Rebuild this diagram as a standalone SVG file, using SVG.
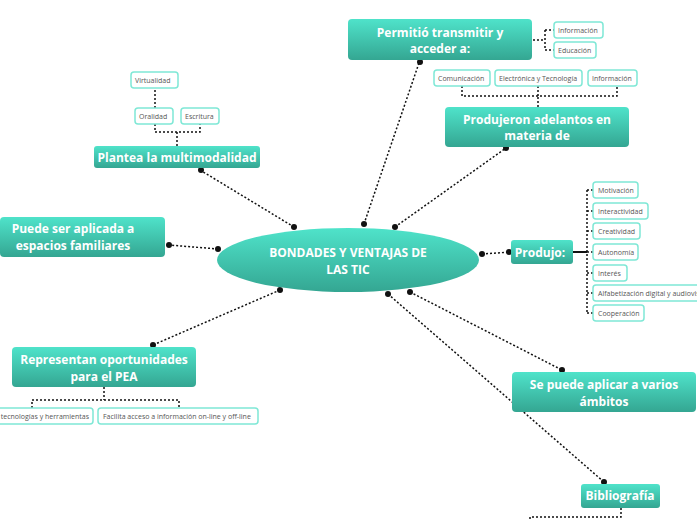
<svg xmlns="http://www.w3.org/2000/svg" width="697" height="520" viewBox="0 0 697 520">
<defs>
<linearGradient id="g" x1="0" y1="0" x2="0" y2="1"><stop offset="0" stop-color="#4fe3ca"/><stop offset="1" stop-color="#34a692"/></linearGradient>
<style>
.n{fill:url(#g)}
.t{font-family:"Open Sans","DejaVu Sans",sans-serif;font-weight:bold;font-size:12px;fill:#fff;text-anchor:middle}
.s rect{fill:#fff;stroke:#7fe8d6;stroke-width:1.5}
.s text{font-family:"Open Sans","DejaVu Sans",sans-serif;font-size:7px;fill:#555}
.c{fill:none;stroke:#111;stroke-width:1.5;stroke-dasharray:2,2}
.d{fill:#111}
</style>
</defs>
<rect width="697" height="520" fill="#fff"/>
<g id="connectors">
<path class="c" d="M364 224L420 60M395 227L506 148M294 227L200 170M218 249L169 245M482 254L511 252M280 290L153 345M410 292L562 370M388 294L604 482"/>
<g class="d">
<circle cx="364" cy="224" r="3"/><circle cx="420" cy="62" r="3"/>
<circle cx="395" cy="227" r="3"/><circle cx="506" cy="148" r="3"/>
<circle cx="294" cy="227" r="3"/><circle cx="201" cy="170" r="3"/>
<circle cx="218" cy="249" r="3"/><circle cx="169" cy="245" r="3"/>
<circle cx="482" cy="254" r="3"/><circle cx="509" cy="252" r="3"/>
<circle cx="280" cy="290" r="3"/><circle cx="153" cy="345" r="3"/>
<circle cx="410" cy="292" r="3"/><circle cx="562" cy="370" r="3"/>
<circle cx="388" cy="294" r="3"/><circle cx="604" cy="482" r="3"/>
</g>
<path class="c" d="M533 40H545M545 30V50M545 30H554M545 50H554"/>
<path class="c" d="M538 107V96M462 86V96H617V86M538 86V96"/>
<path class="c" d="M177 146V132M155 124V132H200V124M155 108V88"/>
<path class="c" d="M104 387V400M32 408V400H179V408"/>
<path class="c" d="M587 190V313M587 190H593M587 211H593M587 231H593M587 252H593M587 273H593M587 293H593M587 313H593"/>
<path d="M573 252H587" stroke="#111" stroke-width="2"/>
<path class="c" d="M621 508V517H530V520"/>
</g>
<g id="center"><ellipse cx="348" cy="260" rx="131" ry="32" class="n"/><text class="t" x="348" y="257">BONDADES Y VENTAJAS DE</text><text class="t" x="348" y="274">LAS TIC</text></g>
<g id="permitio"><rect x="348" y="19" width="184" height="41" rx="4" class="n"/><text class="t" x="440" y="37">Permitió transmitir y</text><text class="t" x="440" y="53">acceder a:</text></g>
<g id="produjeron"><rect x="445" y="107" width="184" height="40" rx="4" class="n"/><text class="t" x="537" y="124">Produjeron adelantos en</text><text class="t" x="537" y="140">materia de</text></g>
<g id="plantea"><rect x="94" y="146" width="166" height="22" rx="3" class="n"/><text class="t" x="177" y="162">Plantea la multimodalidad</text></g>
<g id="puede"><rect x="0" y="217" width="165" height="40" rx="4" class="n"/><text class="t" x="73" y="233">Puede ser aplicada a</text><text class="t" x="73" y="250">espacios familiares</text></g>
<g id="produjo"><rect x="511" y="240" width="62" height="24" rx="3" class="n"/><text class="t" x="540" y="257">Produjo:</text></g>
<g id="representan"><rect x="12" y="347" width="184" height="40" rx="4" class="n"/><text class="t" x="104" y="364">Representan oportunidades</text><text class="t" x="104" y="381">para el PEA</text></g>
<g id="sepuede"><rect x="512" y="372" width="184" height="40" rx="4" class="n"/><text class="t" x="604" y="389">Se puede aplicar a varios</text><text class="t" x="604" y="406">ámbitos</text></g>
<g id="biblio"><rect x="581" y="484" width="79" height="24" rx="3" class="n"/><text class="t" x="620" y="500">Bibliografía</text></g>
<g class="s">
<g id="s1"><rect x="554" y="22" width="49" height="16" rx="3"/><text x="558" y="33">Información</text></g>
<g id="s2"><rect x="554" y="42" width="42" height="16" rx="3"/><text x="558" y="53">Educación</text></g>
<g id="s3"><rect x="434" y="70" width="56" height="16" rx="3"/><text x="438" y="81">Comunicación</text></g>
<g id="s4"><rect x="495" y="70" width="87" height="16" rx="3"/><text x="499" y="81">Electrónica y Tecnología</text></g>
<g id="s5"><rect x="588" y="70" width="49" height="16" rx="3"/><text x="592" y="81">Información</text></g>
<g id="s6"><rect x="131" y="72" width="47" height="16" rx="3"/><text x="135" y="83">Virtualidad</text></g>
<g id="s7"><rect x="135" y="108" width="38" height="16" rx="3"/><text x="139" y="119">Oralidad</text></g>
<g id="s8"><rect x="181" y="108" width="38" height="16" rx="3"/><text x="185" y="119">Escritura</text></g>
<g id="s9"><rect x="593" y="182" width="45" height="16" rx="3"/><text x="598" y="193">Motivación</text></g>
<g id="s10"><rect x="593" y="203" width="55" height="16" rx="3"/><text x="598" y="214">Interactividad</text></g>
<g id="s11"><rect x="593" y="223" width="47" height="16" rx="3"/><text x="598" y="234">Creatividad</text></g>
<g id="s12"><rect x="593" y="244" width="45" height="16" rx="3"/><text x="598" y="255">Autonomía</text></g>
<g id="s13"><rect x="593" y="265" width="34" height="16" rx="3"/><text x="598" y="276">Interés</text></g>
<g id="s14"><rect x="593" y="285" width="110" height="16" rx="3"/><text x="598" y="296">Alfabetización digital y audiovisual</text></g>
<g id="s15"><rect x="593" y="305" width="51" height="16" rx="3"/><text x="598" y="316">Cooperación</text></g>
<g id="s16"><rect x="-20" y="408" width="113" height="16" rx="3"/><text x="89" y="419" text-anchor="end">Nuevas tecnologías y herramientas</text></g>
<g id="s17"><rect x="98" y="408" width="160" height="16" rx="3"/><text x="103" y="419">Facilita acceso a información on-line y off-line</text></g>
</g>
</svg>
